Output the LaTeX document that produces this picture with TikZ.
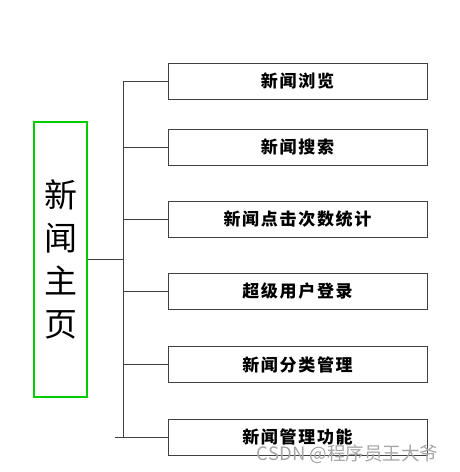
\documentclass[tikz,border=0pt]{standalone}
\usepackage{fontspec}
\newfontfamily\cjk{Noto Sans CJK SC}
\begin{document}
\begin{tikzpicture}[x=1pt,y=-1pt]
	\useasboundingbox (0,0) rectangle (459,472);

		\draw (60.5,259.5) node (main) [draw=green!80!black, line width=1.6pt, minimum width=53pt, minimum height=275pt, inner sep=0pt, align=center, font=\cjk\fontsize{33}{43}\selectfont] {新\\闻\\主\\页};

		\foreach \name/\y/\txt in {a/81/新闻浏览, b/147/新闻搜索, c/219.5/新闻点击次数统计, d/291.5/超级用户登录, e/364.5/新闻分类管理, f/437/新闻管理功能}
		\draw (297.5,\y) node (\name) [draw=black!75, line width=0.8pt, minimum width=259pt, minimum height=36pt, inner sep=0pt, font=\cjk\bfseries\fontsize{17}{17}\selectfont\addfontfeature{LetterSpace=10}] {\txt};

		\coordinate (trunk) at (123.5,259.5);
		\coordinate (stub) at (115,437);
		\draw[black!75, line width=0.8pt] (main.east) -- (trunk);
		\draw[black!75, line width=0.8pt] (a.west -| trunk) -- (f.west -| trunk);
		\foreach \name in {a,b,c,d,e}
		\draw[black!75, line width=0.8pt] (\name.west) -- (\name.west -| trunk);
		\draw[black!75, line width=0.8pt] (stub) -- (f.west);

		\draw (347.5,454) node (mark) [text=black!35, font=\cjk\fontsize{18.5}{18.5}\selectfont] {CSDN @程序员王大爷};
	\end{tikzpicture}
\end{document}
